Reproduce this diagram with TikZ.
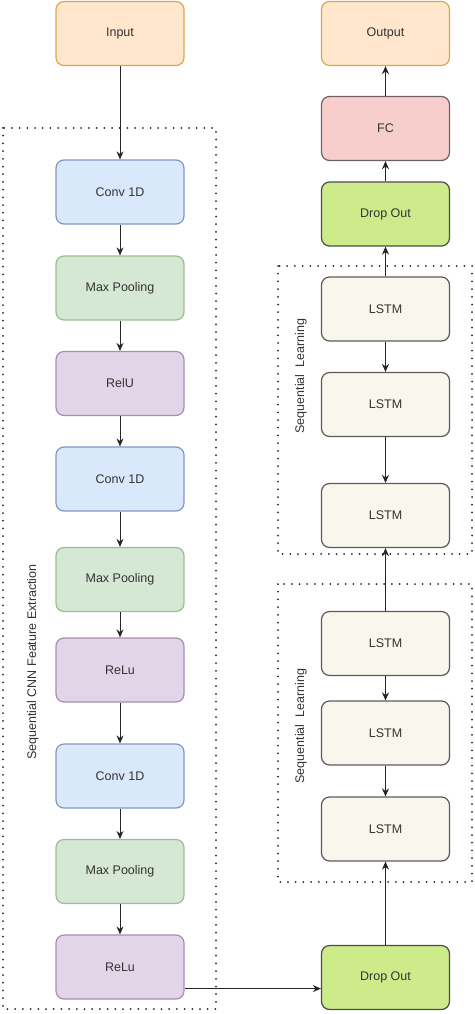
\documentclass[tikz,border=0pt]{standalone}
\usepackage{fontspec}
\setmainfont{Liberation Sans}
\usetikzlibrary{arrows.meta,calc}
\definecolor{orF}{HTML}{FFE6CC}\definecolor{orD}{HTML}{D7A94B}
\definecolor{blF}{HTML}{DAE8FC}\definecolor{blD}{HTML}{7D98C4}
\definecolor{grF}{HTML}{D5E8D4}\definecolor{grD}{HTML}{9DBE8C}
\definecolor{puF}{HTML}{E1D5E7}\definecolor{puD}{HTML}{A98CB5}
\definecolor{rdF}{HTML}{F8CECC}\definecolor{rdD}{HTML}{6E6262}
\definecolor{lmF}{HTML}{CDEB8B}\definecolor{lmD}{HTML}{4A4D48}
\definecolor{lsF}{HTML}{F9F7ED}\definecolor{lsD}{HTML}{5A5A58}
\definecolor{txt}{HTML}{333333}
\tikzset{
  blk/.style={rounded corners=8pt, minimum width=128pt, minimum height=64pt, line width=1.2pt, inner sep=0pt, font=\fontsize{12.5}{14}\selectfont, text=txt},
  inbox/.style={blk, fill=orF, draw=orD},
  convbox/.style={blk, fill=blF, draw=blD},
  poolbox/.style={blk, fill=grF, draw=grD},
  relubox/.style={blk, fill=puF, draw=puD},
  fcbox/.style={blk, fill=rdF, draw=rdD},
  dropbox/.style={blk, fill=lmF, draw=lmD},
  lstmbox/.style={blk, fill=lsF, draw=lsD},
  arr/.style={-{Stealth[length=8pt,width=7pt]}, line width=1pt, draw=black!85},
  dotbox/.style={draw=black!85, line width=2pt, dash pattern=on 0pt off 7.7pt, line cap=round},
  grplabel/.style={rotate=90, font=\fontsize{12.5}{14}\selectfont, text=txt}
}
\begin{document}
\begin{tikzpicture}[x=1pt,y=-1pt]
\useasboundingbox (0,0) rectangle (474,1014);
% groups
\draw[dotbox] (3,128) rectangle (216,1009);
\draw[dotbox] (278,266) rectangle (472,554);
\draw[dotbox] (278,584) rectangle (472,882);
% left column
\node[inbox]   (input) at (120,33.5) {Input};
\node[convbox] (conv1) at (120,192) {Conv 1D};
\node[poolbox] (mp1)   at (120,288) {Max Pooling};
\node[relubox] (relu1) at (120,383.5) {RelU};
\node[convbox] (conv2) at (120,479) {Conv 1D};
\node[poolbox] (mp2)   at (120,579.5) {Max Pooling};
\node[relubox] (relu2) at (120,670) {ReLu};
\node[convbox] (conv3) at (120,776) {Conv 1D};
\node[poolbox] (mp3)   at (120,871.5) {Max Pooling};
\node[relubox] (relu3) at (120,967) {ReLu};
% right column
\node[inbox]   (output) at (385.5,33.5) {Output};
\node[fcbox]   (fc)     at (385.5,128.5) {FC};
\node[dropbox] (drop1)  at (385.5,214) {Drop Out};
\node[lstmbox] (l1) at (385.5,309) {LSTM};
\node[lstmbox] (l2) at (385.5,404.5) {LSTM};
\node[lstmbox] (l3) at (385.5,515.5) {LSTM};
\node[lstmbox] (l4) at (385.5,643.5) {LSTM};
\node[lstmbox] (l5) at (385.5,733) {LSTM};
\node[lstmbox] (l6) at (385.5,829) {LSTM};
\node[dropbox] (drop2) at (385.5,977.5) {Drop Out};
% group labels
\node[grplabel] (gl1) at (33,662) {Sequential CNN Feature Extraction};
\node[grplabel] (gl2) at (301,376) {Sequential\ \ Learning};
\node[grplabel] (gl3) at (301,726) {Sequential\ \ Learning};
% connectors left
\draw[arr] (input) -- (conv1);
\draw[arr] (conv1) -- (mp1);
\draw[arr] (mp1) -- (relu1);
\draw[arr] (relu1) -- (conv2);
\draw[arr] (conv2) -- (mp2);
\draw[arr] (mp2) -- (relu2);
\draw[arr] (relu2) -- (conv3);
\draw[arr] (conv3) -- (mp3);
\draw[arr] (mp3) -- (relu3);
% bottom link
\coordinate (h1) at ($(relu3.south east)+(0,-11)$);
\draw[arr] (h1) -- (h1 -| drop2.west);
% right column connectors
\draw[arr] (drop2) -- (l6);
\draw[arr] (l4) -- (l3);
\draw[arr] (l1) -- (drop1);
\draw[arr] (drop1) -- (fc);
\draw[arr] (fc) -- (output);
\draw[arr] (l1) -- (l2);
\draw[arr] (l2) -- (l3);
\draw[arr] (l4) -- (l5);
\draw[arr] (l5) -- (l6);
\end{tikzpicture}
\end{document}
